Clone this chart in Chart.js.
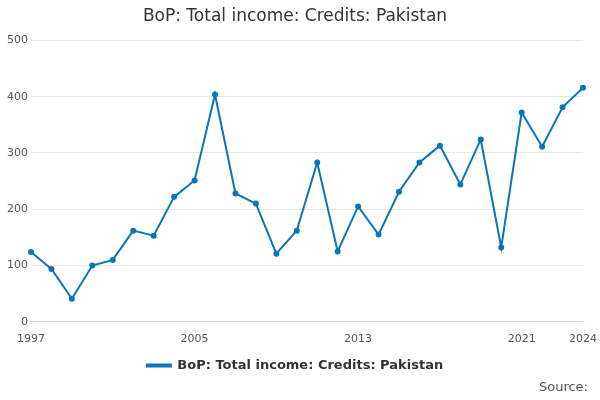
<!DOCTYPE html>
<html>
<head>
<meta charset="utf-8">
<script src="https://cdn.jsdelivr.net/npm/chart.js@4"></script>
<style>
  body { margin: 0; background: #fff; }
  #wrap { width: 600px; height: 400px; position: relative; }
  #src { position: absolute; right: 12px; bottom: 6px; font: 13px "DejaVu Sans"; color: #555; }
</style>
</head>
<body>
<div id="wrap"><canvas id="c" width="600" height="400"></canvas><div id="src">Source:</div></div>
<script>
// anni e valori
var anni = [1997,1998,1999,2000,2001,2002,2003,2004,2005,2006,2007,2008,2009,2010,
            2011,2012,2013,2014,2015,2016,2017,2018,2019,2020,2021,2022,2023,2024];
var valori = [124,94,41,100,110,162,153,222,251,404,228,210,121,162,
              283,125,205,155,231,283,313,244,324,132,372,311,381,416];
var etichetteVisibili = ["1997","2005","2013","2021","2024"];
var titolo = "BoP: Total income: Credits: Pakistan";

Chart.defaults.font.family = "DejaVu Sans";

new Chart(document.getElementById("c").getContext("2d"), {
    type: "line",
    data: {
        labels: anni.map(String),
        datasets: [{
            label: titolo,
            data: valori,
            borderColor: "#0a75b8",
            backgroundColor: "#0a75b8",
            borderWidth: 2,
            pointRadius: 2,
            tension: 0
        }]
    },
    options: {
        responsive: false,
        animation: false,
        layout: { padding: { left: 4, right: 14, bottom: 18 } },
        plugins: {
            title: { display: true, text: titolo, color: "#333", font: { size: 17, weight: "normal" }, padding: { top: 6, bottom: 14 } },
            legend: { position: "bottom", labels: { color: "#333", font: { size: 13, weight: "bold" }, boxWidth: 24, boxHeight: 2 } }
        },
        scales: {
            x: {
                grid: { display: false, drawTicks: true },
                border: { color: "#ccd6eb" },
                ticks: {
                    color: "#555", font: { size: 11 }, autoSkip: false, maxRotation: 0,
                    callback: function (v, i) {
                        var l = this.getLabelForValue(v);
                        return etichetteVisibili.indexOf(l) >= 0 ? l : "";
                    }
                }
            },
            y: {
                min: 0, max: 500,
                ticks: { stepSize: 100, color: "#555", font: { size: 11 } },
                grid: { color: "#e6e6e6", drawTicks: false },
                border: { display: false }
            }
        }
    }
});
</script>
</body>
</html>
